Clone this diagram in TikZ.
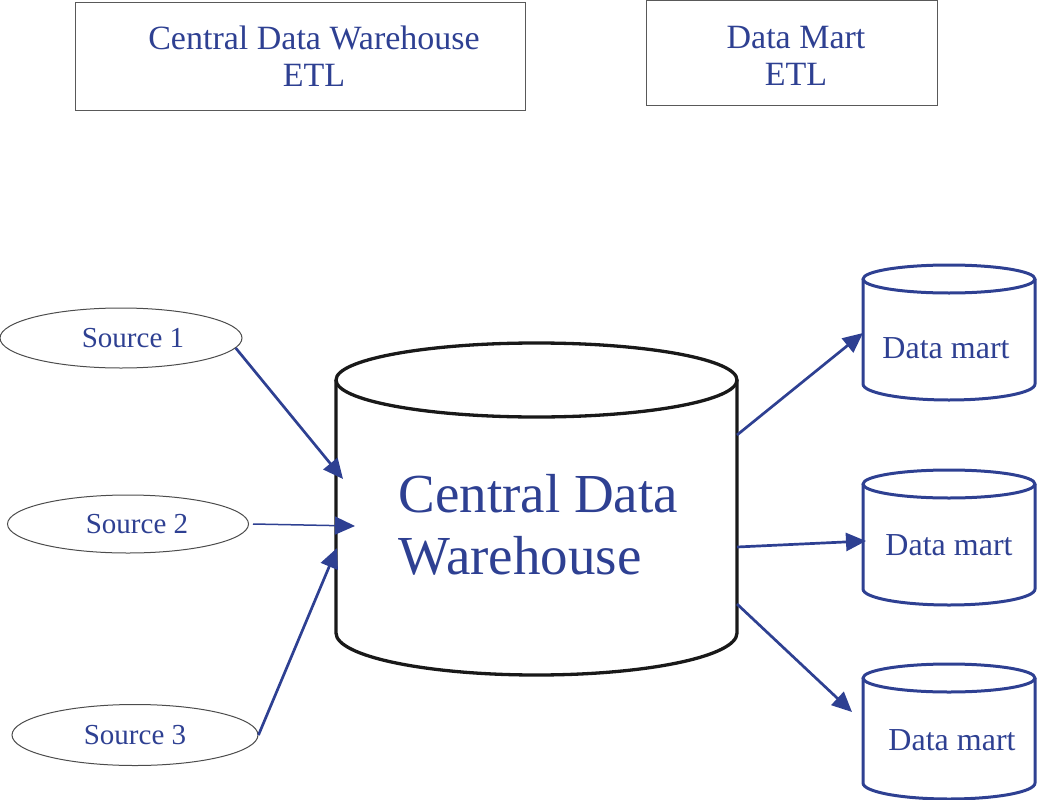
\documentclass[tikz,border=0pt]{standalone}
\usepackage{fontspec}
\setmainfont{Liberation Serif}
\usetikzlibrary{arrows.meta,shapes.geometric}
\definecolor{dwblue}{RGB}{46,64,146}
\begin{document}
\begin{tikzpicture}[x=1pt,y=-1pt,
  etlbox/.style={draw=black!65, line width=1pt, rectangle, inner sep=0pt},
  etltext/.style={text=dwblue, align=center, font=\fontsize{34}{37}\selectfont},
  srcell/.style={draw=black!70, line width=1pt, ellipse, inner sep=0pt},
  srctext/.style={text=dwblue, font=\fontsize{29}{33}\selectfont},
  cdwline/.style={draw=black!90, line width=3.3pt, line join=round},
  dmline/.style={draw=dwblue, line width=3pt, line join=round},
  dmtext/.style={text=dwblue, font=\fontsize{32}{36}\selectfont},
  bigtext/.style={text=dwblue, align=left, font=\fontsize{55}{62}\selectfont},
  arr/.style={draw=dwblue, line width=2.7pt, -{Triangle[length=20pt,width=18pt]}},
  arrthin/.style={draw=dwblue, line width=1.5pt, -{Triangle[length=20pt,width=18pt]}}]
\useasboundingbox (0,0) rectangle (1041,800);

% top ETL boxes
\node[etlbox, minimum width=450pt, minimum height=107pt] (etl1) at (300,56.5) {};
\node[etltext] (etl1t) at (314,56.5) {Central Data Warehouse\\ETL};
\node[etlbox, minimum width=291pt, minimum height=104pt] (etl2) at (791.5,53) {};
\node[etltext] (etl2t) at (796,56) {Data Mart\\ETL};

% sources
\node[srcell, minimum width=242pt, minimum height=60pt] (s1) at (121,338) {};
\node[srctext] (s1t) at (133,338) {Source 1};
\node[srcell, minimum width=241pt, minimum height=58pt] (s2) at (128,524) {};
\node[srctext] (s2t) at (137,524) {Source 2};
\node[srcell, minimum width=246pt, minimum height=61pt] (s3) at (135,735) {};
\node[srctext] (s3t) at (135,735) {Source 3};

% central data warehouse cylinder
\draw[cdwline] (536.5,380) ellipse[x radius=200.5pt, y radius=37pt];
\draw[cdwline] (336,380) -- (336,633) arc[start angle=180, end angle=360, x radius=200.5pt, y radius=42pt] -- (737,380);
\node[bigtext, anchor=west] (cdw) at (395,525) {Central Data\\Warehouse};

\coordinate (c1) at (343,479);
\coordinate (c2) at (355,526);
\coordinate (c3) at (337,548);
\coordinate (o1) at (737,435);
\coordinate (o2) at (737,547);
\coordinate (o3) at (737,604);

% data marts
\foreach \n/\y/\tx/\ty in {1/279/946/348, 2/484/949/545, 3/678/952/740} {
  \draw[dmline] (949,\y) ellipse[x radius=86pt, y radius=14pt];
  \draw[dmline] (863,\y) -- (863,\y+105) arc[start angle=180, end angle=360, x radius=86pt, y radius=16pt] -- (1035,\y);
  \node[dmtext] (dm\n) at (\tx,\ty) {Data mart};
}
\coordinate (d1) at (863,333);
\coordinate (d2) at (866,541);
\coordinate (d3) at (852,712);

% connectors
\draw[arr] (s1.355) -- (c1);
\draw[arrthin] ([xshift=4pt]s2.east) -- (c2);
\draw[arr] (s3.east) -- (c3);
\draw[arr] (o1) -- (d1);
\draw[arr] (o2) -- (d2);
\draw[arr] (o3) -- (d3);
\end{tikzpicture}
\end{document}
